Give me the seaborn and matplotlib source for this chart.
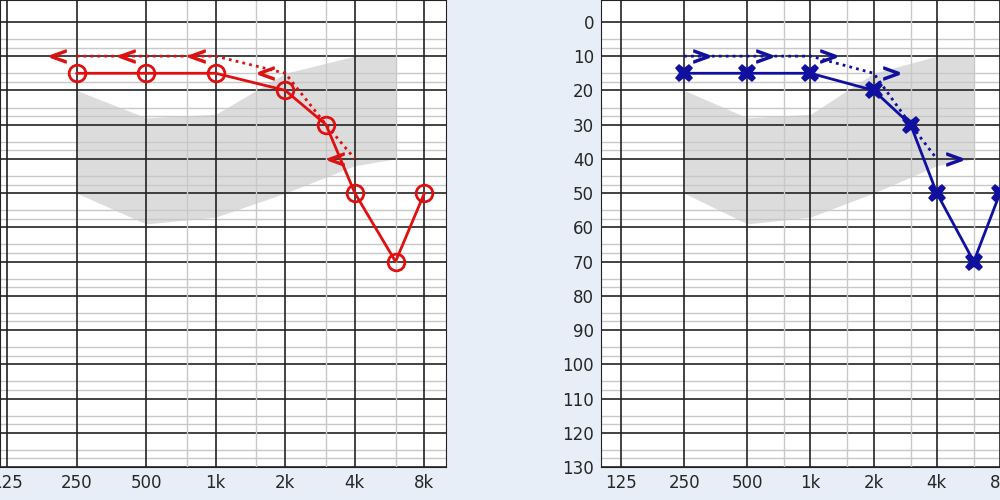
import numpy as np
import pandas as pd
import matplotlib
matplotlib.use('Agg')
import matplotlib.pyplot as plt
import seaborn as sns

sns.set_style("white")
plt.rcParams['font.family'] = ['DejaVu Sans']

freq_labels = ["125", "250", "500", "1k", "2k", "4k", "8k"]
freqs = [125, 250, 500, 1000, 2000, 4000, 8000]
minor_freqs = [750, 1500, 3000, 6000]

# air conduction (same for both ears in the picture)
ac_freq = [250, 500, 1000, 2000, 3000, 4000, 6000, 8000]
right_ac = [15, 15, 15, 20, 30, 50, 70, 50]
left_ac = [15, 15, 15, 20, 30, 50, 70, 50]
# bone conduction
bc_freq = [250, 500, 1000, 2000, 4000]
bc_right = [10, 10, 10, 15, 40]
bc_left = [10, 10, 10, 15, 40]
bc_line_freq = [250, 500, 1000, 2000, 3000, 4000]
bc_line_right = [10, 10, 10, 15, 30, 40]
bc_line_left = [10, 10, 10, 15, 30, 40]

# speech banana
band_freq = [250, 500, 1000, 2000, 4000, 6000]
band_top = [20, 28, 27, 15, 10, 10]
band_bot = [50, 59, 57, 50, 42, 40]


def oct_(f):
    return np.log2(np.asarray(f, dtype=float) / 125)


fig = plt.figure(figsize=(10, 5), dpi=100)
fig.patch.set_facecolor("#e8eef8")
axL = fig.add_axes([0.0, 0.066, 0.446, 0.934])
axR = fig.add_axes([0.601, 0.066, 0.399, 0.934])


def setup(ax):
    ax.set_facecolor("white")
    ax.fill_between(oct_(band_freq), band_top, band_bot, color="#dcdcdc", lw=0, zorder=0)
    for d in range(0, 131, 10):
        for m in (5, 7.5):
            if d + m <= 130:
                ax.axhline(d + m, color="#c8c8c8", lw=1, zorder=1)
        ax.axhline(d, color="#222222", lw=1.2, zorder=1)
    for f in minor_freqs:
        ax.axvline(oct_(f), color="#c8c8c8", lw=1, zorder=1)
    for f in freqs:
        ax.axvline(oct_(f), color="#222222", lw=1.2, zorder=1)
    for s in ax.spines.values():
        s.set_color("#222222")


def finish(ax, xlim):
    ax.set_xlim(*xlim)
    ax.set_ylim(130, -6.4)
    ax.set_xticks(oct_(freqs))
    ax.set_xticklabels(freq_labels, fontsize=12)
    ax.set_yticks(range(0, 131, 10))
    ax.tick_params(length=0, pad=5)


setup(axL)
setup(axR)

# right ear (red)
red = "#e01010"
sns.lineplot(x=oct_(ac_freq), y=right_ac, ax=axL, color=red, lw=2, marker="o",
             markersize=12, markerfacecolor="none", markeredgecolor=red,
             markeredgewidth=2, zorder=5)
sns.lineplot(x=oct_(bc_line_freq), y=bc_line_right, ax=axL, color=red, lw=2,
             linestyle=(0, (1, 1.5)), zorder=4)
axL.plot(oct_(bc_freq) - 0.27, bc_right, ls="none", marker="$<$", markersize=11,
         color=red, zorder=5)

# left ear (blue)
blue = "#1010a0"
sns.lineplot(x=oct_(ac_freq), y=left_ac, ax=axR, color=blue, lw=2, marker="X",
             markersize=13, markerfacecolor=blue, markeredgewidth=0, zorder=5)
sns.lineplot(x=oct_(bc_line_freq), y=bc_line_left, ax=axR, color=blue, lw=2,
             linestyle=(0, (1, 1.5)), zorder=4)
axR.plot(oct_(bc_freq) + 0.27, bc_left, ls="none", marker="$>$", markersize=11,
         color=blue, zorder=5)

finish(axL, (-0.1, 6.31))
finish(axR, (-0.315, 5.40))
axL.set_yticklabels([])
axR.set_yticklabels([str(v) for v in range(0, 131, 10)], fontsize=12)

fig.savefig("out.png", dpi=100, facecolor=fig.get_facecolor())
